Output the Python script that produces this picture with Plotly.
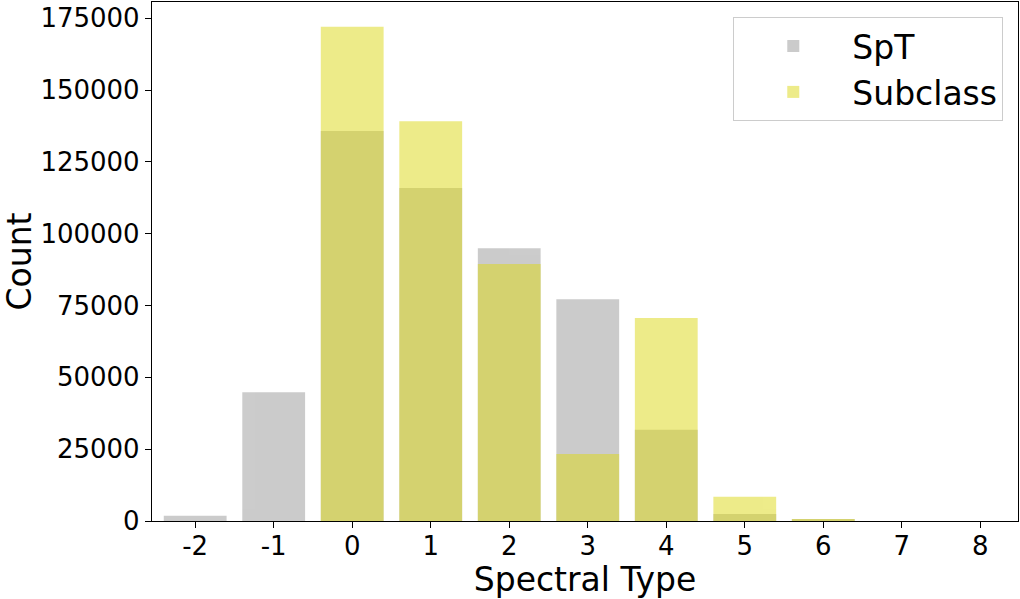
import plotly.graph_objects as go

tipos = [-2, -1, 0, 1, 2, 3, 4, 5, 6, 7, 8]
tick_labels = ["-2", "-1", "0", "1", "2", "3", "4", "5", "6", "7", "8"]
spt = [1800, 44800, 135800, 115900, 95000, 77200, 31800, 2400, 400, 0, 0]
subclass = [0, 0, 172100, 139200, 89500, 23300, 70700, 8400, 700, 0, 0]

fig = go.Figure()
fig.add_trace(go.Bar(x=tipos, y=spt, name="SpT", width=0.8,
                     marker=dict(color="#808080", line=dict(width=0)), opacity=0.4))
fig.add_trace(go.Bar(x=tipos, y=subclass, name="Subclass", width=0.8,
                     marker=dict(color="rgb(221,217,21)", line=dict(width=0)), opacity=0.5))

eixo = dict(showline=True, linecolor="black", linewidth=1.3, mirror=True,
            ticks="outside", ticklen=6, tickcolor="black", showgrid=False, zeroline=False,
            tickfont=dict(size=26, color="black"), automargin=False)

fig.update_layout(
    barmode="overlay",
    width=1020, height=599,
    margin=dict(l=152, r=2, t=2, b=78, autoexpand=False),
    plot_bgcolor="white", paper_bgcolor="white",
    font=dict(family="DejaVu Sans", color="black"),
    xaxis=dict(eixo, range=[-2.55, 8.48], tickvals=tipos, ticktext=tick_labels,
               ticklabelstandoff=-4,
               title=dict(text="Spectral Type", font=dict(size=33), standoff=8)),
    yaxis=dict(eixo, range=[0, 180700], tickvals=[0, 25000, 50000, 75000, 100000, 125000, 150000, 175000],
               tickformat="d",
               title=dict(text="Count", font=dict(size=33), standoff=19)),
    legend=dict(x=0.983, y=0.971, xanchor="right", yanchor="top",
                bordercolor="#cccccc", borderwidth=1, bgcolor="white",
                font=dict(size=33), itemwidth=108, tracegroupgap=4),
)

# a margem padrão do body desloca o gráfico 8px
fig.write_html("out.html", config={"displayModeBar": False},
               post_script="document.body.style.margin='0';")
